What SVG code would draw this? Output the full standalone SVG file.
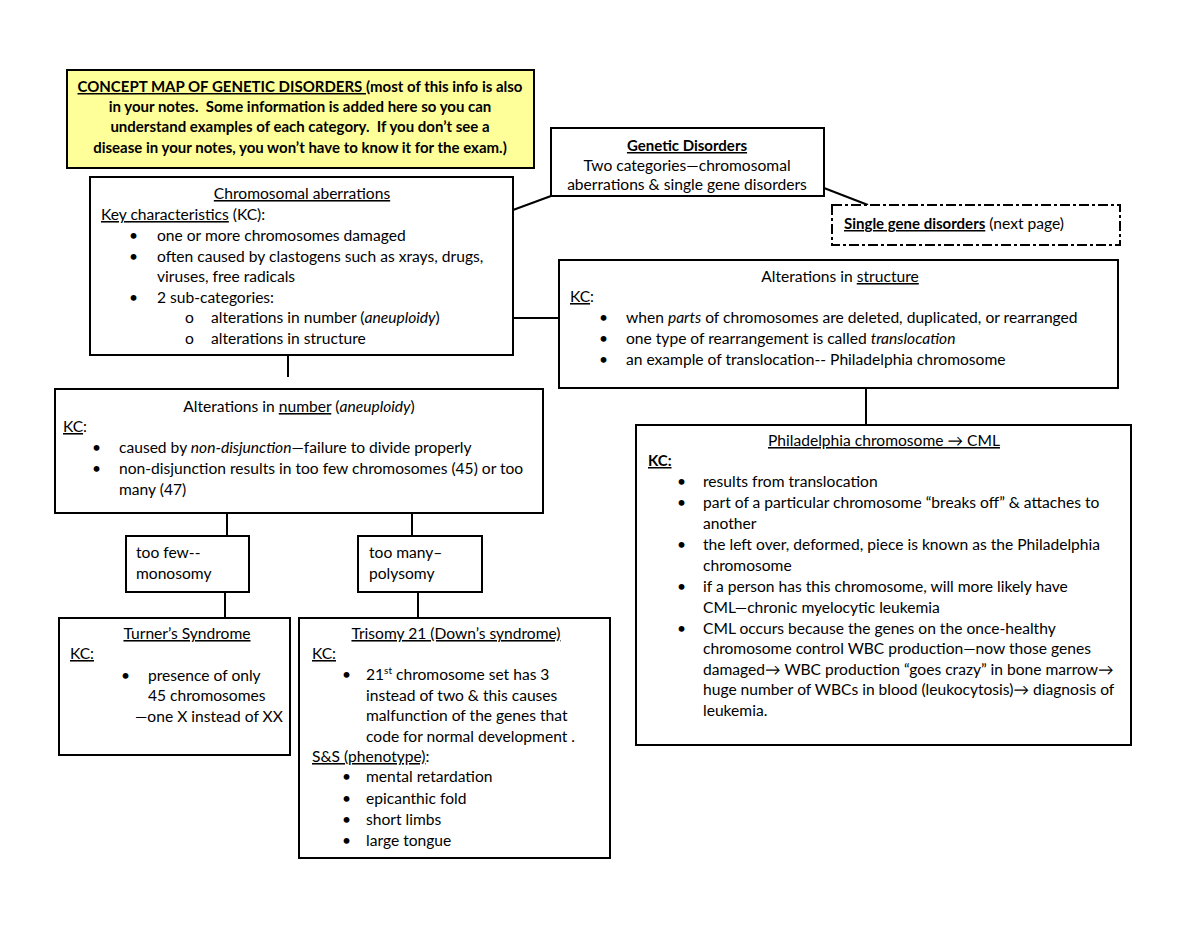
<svg xmlns="http://www.w3.org/2000/svg" width="1200" height="927" viewBox="0 0 1200 927">
<style>
text{font-family:"Lato","Liberation Sans",sans-serif;font-size:15.6px;fill:#000}
.box{fill:#fff;stroke:#000;stroke-width:2}
.yel{fill:#ffff99;stroke:#000;stroke-width:2}
.dash{fill:#fff;stroke:#000;stroke-width:2;stroke-dasharray:10 3 3 3}
.c{text-anchor:middle}
.b{font-weight:bold;font-size:15px}
.u{text-decoration:underline}
.i{font-style:italic}
.con line{stroke:#000;stroke-width:2}
</style>
<rect width="1200" height="927" fill="#fff"/>

<g id="connectors" class="con">
<line x1="513" y1="210" x2="551" y2="196"/>
<line x1="824" y1="188" x2="868" y2="205"/>
<line x1="513" y1="318" x2="568" y2="318"/>
<line x1="288" y1="355" x2="288" y2="377"/>
<line x1="866" y1="388" x2="866" y2="425"/>
<line x1="227" y1="513" x2="227" y2="536"/>
<line x1="412" y1="513" x2="412" y2="536"/>
<line x1="225" y1="592" x2="225" y2="618"/>
<line x1="418" y1="592" x2="418" y2="618"/>
</g>

<g id="title">
<rect class="yel" x="67" y="70" width="467" height="98"/>
<text class="c b" x="300" y="92"><tspan class="u">CONCEPT MAP OF GENETIC DISORDERS </tspan>(most of this info is also</text>
<text class="c b" x="300" y="112" xml:space="preserve">in your notes.  Some information is added here so you can</text>
<text class="c b" x="300" y="132" xml:space="preserve">understand examples of each category.  If you don’t see a</text>
<text class="c b" x="300" y="153">disease in your notes, you won’t have to know it for the exam.)</text>
</g>

<g id="genetic-disorders">
<rect class="box" x="551" y="128" width="273" height="68"/>
<text class="c b u" x="687" y="151">Genetic Disorders</text>
<text class="c" x="687" y="171">Two categories—chromosomal</text>
<text class="c" x="687" y="190">aberrations &amp; single gene disorders</text>
</g>

<g id="single-gene">
<rect class="dash" x="832" y="205" width="288" height="40"/>
<text x="844" y="229"><tspan class="b u" font-size="14.6">Single gene disorders</tspan> (next page)</text>
</g>

<g id="chromosomal-aberrations">
<rect class="box" x="90" y="177" width="423" height="178"/>
<text class="c u" x="302" y="199">Chromosomal aberrations</text>
<text x="101" y="220"><tspan class="u">Key characteristics</tspan> (KC):</text>
<text x="129" y="241">•</text><text x="157" y="241">one or more chromosomes damaged</text>
<text x="129" y="262">•</text><text x="157" y="262">often caused by clastogens such as xrays, drugs,</text>
<text x="157" y="282">viruses, free radicals</text>
<text x="129" y="303">•</text><text x="157" y="303">2 sub-categories:</text>
<text x="185" y="323">o</text><text x="211" y="323">alterations in number (<tspan class="i">aneuploidy</tspan>)</text>
<text x="185" y="344">o</text><text x="211" y="344">alterations in structure</text>
</g>

<g id="alterations-structure">
<rect class="box" x="559" y="260" width="559" height="128"/>
<text class="c" x="840" y="282">Alterations in <tspan class="u">structure</tspan></text>
<text x="570" y="302"><tspan class="u">KC</tspan>:</text>
<text x="599" y="323">•</text><text x="626" y="323">when <tspan class="i">parts</tspan> of chromosomes are deleted, duplicated, or rearranged</text>
<text x="599" y="344">•</text><text x="626" y="344">one type of rearrangement is called <tspan class="i">translocation</tspan></text>
<text x="599" y="365">•</text><text x="626" y="365">an example of translocation-- Philadelphia chromosome</text>
</g>

<g id="alterations-number">
<rect class="box" x="55" y="389" width="488" height="124"/>
<text class="c" x="299" y="412">Alterations in <tspan class="u">number</tspan> (<tspan class="i">aneuploidy</tspan>)</text>
<text x="63" y="432"><tspan class="u">KC</tspan>:</text>
<text x="92" y="453">•</text><text x="119" y="453">caused by <tspan class="i">non-disjunction</tspan>—failure to divide properly</text>
<text x="92" y="474">•</text><text x="119" y="474">non-disjunction results in too few chromosomes (45) or too</text>
<text x="119" y="495">many (47)</text>
</g>

<g id="too-few">
<rect class="box" x="126" y="536" width="123" height="56"/>
<text x="136" y="558">too few--</text>
<text x="136" y="579">monosomy</text>
</g>

<g id="too-many">
<rect class="box" x="358" y="536" width="124" height="56"/>
<text x="369" y="558">too many–</text>
<text x="369" y="579">polysomy</text>
</g>

<g id="turner">
<rect class="box" x="59" y="618" width="231" height="137"/>
<text class="c u" x="187" y="639">Turner’s Syndrome</text>
<text class="u" x="70" y="659">KC:</text>
<text x="121" y="681">•</text><text x="148" y="681">presence of only</text>
<text x="148" y="701">45 chromosomes</text>
<text x="135" y="722">—one X instead of XX</text>
</g>

<g id="trisomy">
<rect class="box" x="299" y="618" width="311" height="240"/>
<text class="c u" x="456" y="639">Trisomy 21 (Down’s syndrome)</text>
<text class="u" x="312" y="659">KC:</text>
<text x="342" y="680">•</text><text x="366" y="680">21<tspan font-size="10" dy="-6">st</tspan><tspan dy="6"> chromosome set has 3</tspan></text>
<text x="366" y="701">instead of two &amp; this causes</text>
<text x="366" y="721">malfunction of the genes that</text>
<text x="366" y="742">code for normal development .</text>
<text x="312" y="762"><tspan class="u">S&amp;S (phenotype)</tspan>:</text>
<text x="342" y="782">•</text><text x="366" y="782">mental retardation</text>
<text x="342" y="804">•</text><text x="366" y="804">epicanthic fold</text>
<text x="342" y="825">•</text><text x="366" y="825">short limbs</text>
<text x="342" y="846">•</text><text x="366" y="846">large tongue</text>
</g>

<g id="philadelphia">
<rect class="box" x="636" y="425" width="495" height="320"/>
<text class="c u" x="884" y="446">Philadelphia chromosome  → CML</text>
<text class="u b" x="648" y="466">KC:</text>
<text x="677" y="487">•</text><text x="703" y="487">results from translocation</text>
<text x="677" y="508">•</text><text x="703" y="508">part of a particular chromosome “breaks off” &amp; attaches to</text>
<text x="703" y="529">another</text>
<text x="677" y="550">•</text><text x="703" y="550">the left over, deformed, piece is known as the Philadelphia</text>
<text x="703" y="571">chromosome</text>
<text x="677" y="592">•</text><text x="703" y="592">if a person has this chromosome, will more likely have</text>
<text x="703" y="613">CML—chronic myelocytic leukemia</text>
<text x="677" y="634">•</text><text x="703" y="634">CML occurs because the genes on the once-healthy</text>
<text x="703" y="654">chromosome control WBC production—now those genes</text>
<text x="703" y="675">damaged→ WBC production “goes crazy” in bone marrow→</text>
<text x="703" y="695">huge number of WBCs in blood (leukocytosis)→ diagnosis of</text>
<text x="703" y="716">leukemia.</text>
</g>
</svg>
